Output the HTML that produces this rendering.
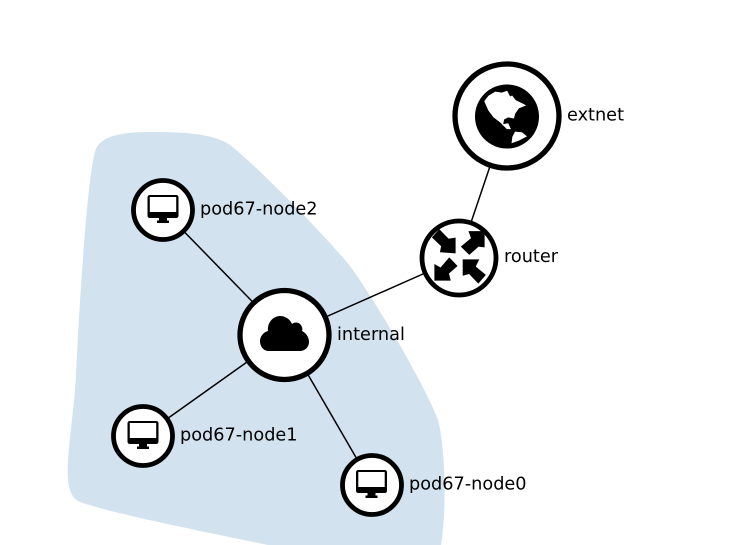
<!DOCTYPE html>
<html>
<head>
<meta charset="utf-8">
<style>
html,body{margin:0;padding:0;background:#fff;}
svg{display:block;}
text{font-family:"DejaVu Sans",sans-serif;font-size:17.7px;fill:#000;}
</style>
</head>
<body>
<svg width="754" height="545" viewBox="0 0 754 545" xmlns="http://www.w3.org/2000/svg">
<defs>
<g id="pc">
<path fill-rule="evenodd" d="M-13,-15H13Q15.500,-15 15.500,-12.500V5.500Q15.500,8 13,8H4V10.500H6V13H-6V10.500H-4V8H-13Q-15.500,8 -15.500,5.500V-12.500Q-15.500,-15 -13,-15ZM-13.200,-13V2H13.200V-13Z" fill="#000"/>
</g>
</defs>
<path d="M95,152C99,132 135,132 155,132C185,132 211,134 227,143C247,156 325,235 350,266C375,300 425,385 438,420C445,445 447,510 441,545H268C210,533 110,513 80,502C68,497 67,480 68,462C69,440 75,400 76,375C79,310 87,180 95,152Z" fill="#d2e3ef"/>
<g stroke="#000" stroke-width="1.500" fill="none">
<line x1="507" y1="116" x2="459" y2="258"/>
<line x1="459" y1="258" x2="285" y2="335"/>
<line x1="163" y1="210" x2="285" y2="335"/>
<line x1="143" y1="436" x2="285" y2="335"/>
<line x1="372" y1="485" x2="285" y2="335"/>
</g>
<g fill="#fff" stroke="#000">
<circle cx="507" cy="116" r="52" stroke-width="5.300"/>
<circle cx="459" cy="258" r="37" stroke-width="4.800"/>
<circle cx="284.500" cy="335" r="44.500" stroke-width="5.300"/>
<circle cx="163" cy="210" r="29.500" stroke-width="4.800"/>
<circle cx="143" cy="436" r="29.500" stroke-width="4.800"/>
<circle cx="372" cy="485" r="29.500" stroke-width="4.800"/>
</g>
<circle cx="507" cy="116.500" r="32" fill="#000"/>
<path fill="#fff" stroke="#fff" stroke-width="0.800" d="M484.700,101.300L488.700,96L495.300,92L502,93L507,91.300L510,97L512,96L515.300,100.300L525.300,105.300L518.700,108L514.700,113.700L513.700,118L508,117L503.700,119.300L502.700,124.700L508,123.700L510.300,128.700L507,128.700L500.300,122L493.700,117L488.700,110.300Z"/>
<path fill="#fff" stroke="#fff" stroke-width="0.800" d="M515.300,132L522,132.700L526.300,136.300L518.700,140.300L512,142.700L512.700,137Z"/>
<g fill="#000" stroke="#000" stroke-width="1.200" stroke-linejoin="miter">
<path d="M439.300,230L432.700,237.300L441.700,246L440.700,251.700L455,252.700L455,238.300L448.300,239.300Z"/>
<path d="M484,231.700L469.300,231.700L471.700,238.300L461.700,246.700L469.300,254L478.300,246L484,246.700Z"/>
<path d="M435,280L435,265L440.700,268.300L449.300,258.300L456.700,266L448.300,273.300L450,280Z"/>
<path d="M463.300,260L478.300,260L475,266.700L485,275L478.300,282.700L469.300,273.300L463.300,275Z"/>
</g>
<path fill="#000" d="M269,351C263,351 260,346 260,341C260,336 264,332 268,331C267,323 273,316 280,316C285,316 290,319 292,324C294,322 298,322 300,324C302,326 303,329 302,331C306,333 309,337 309,342C309,347 305,351 300,351Z"/>
<use href="#pc" x="163" y="210"/>
<use href="#pc" x="143" y="436"/>
<use href="#pc" x="371.500" y="485"/>
<text x="567" y="120.500">extnet</text>
<text x="504" y="262">router</text>
<text x="337" y="340">internal</text>
<text x="200" y="214.500">pod67-node2</text>
<text x="180" y="440.500">pod67-node1</text>
<text x="409" y="489.500">pod67-node0</text>
</svg>
</body>
</html>
